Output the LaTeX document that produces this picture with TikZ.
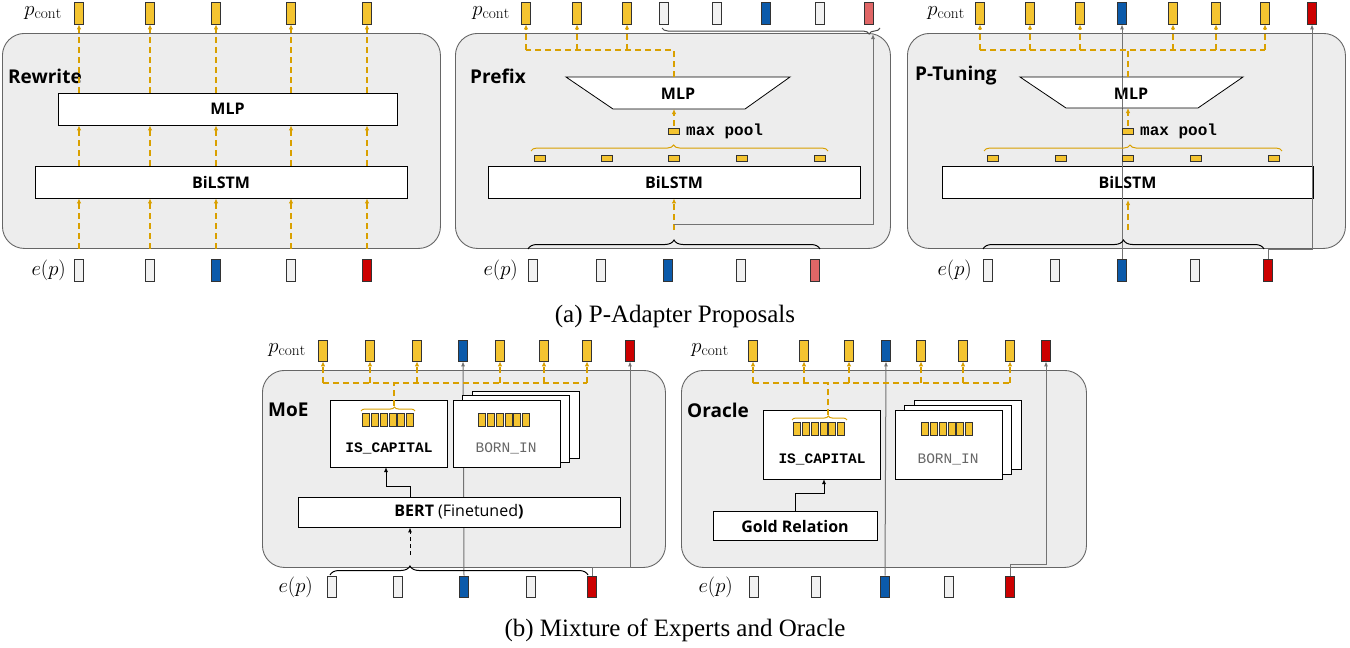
\documentclass[tikz,border=0pt]{standalone}
\usepackage{fontspec}
\newfontfamily\osans{Open Sans}
\newfontfamily\mymono{Liberation Mono}
\newfontfamily\myserif{Liberation Serif}
\usetikzlibrary{arrows.meta,decorations.pathreplacing}
\definecolor{G}{HTML}{F4C430}
\definecolor{GD}{HTML}{D9A000}
\definecolor{B}{HTML}{0B5AAA}
\definecolor{R}{HTML}{CC0000}
\definecolor{LR}{HTML}{E06666}
\definecolor{W}{HTML}{F2F2F2}
\tikzset{
 panel/.style={draw=black!60,fill=black!7,rounded corners=22,line width=0.9,anchor=north west,inner sep=0},
 tok/.style={draw=black!80,minimum width=9,minimum height=22,inner sep=0,line width=0.7},
 sm/.style={draw=black!80,fill=G,minimum width=11,minimum height=6,inner sep=0,line width=0.6},
 cell/.style={draw=black!80,fill=G,minimum width=7,minimum height=13,inner sep=0,line width=0.6},
 box/.style={draw=black,fill=white,line width=0.8,inner sep=0},
 lbl/.style={font=\osans\bfseries\fontsize{19}{19}\selectfont,anchor=west,inner sep=0},
 blbl/.style={font=\osans\bfseries\fontsize{16}{16}\selectfont},
 ttb/.style={font=\mymono\bfseries\fontsize{14.5}{14.5}\selectfont},
 ttg/.style={font=\mymono\fontsize{14.5}{14.5}\selectfont,text=black!60},
 gline/.style={color=GD,line width=1.3,dash pattern=on 6pt off 4pt},
 garr/.style={gline,-{Latex[length=5,width=4.5]}},
 grar/.style={draw=black!55,line width=1,-{Latex[length=5,width=4]}},
 blarr/.style={draw=black,line width=1,-{Latex[length=5,width=4]}},
 br/.style={decorate,decoration={brace,amplitude=#1},line width=1},
 mathl/.style={font=\fontsize{22}{22}\selectfont,anchor=east,inner sep=0},
 captxt/.style={font=\myserif\fontsize{25}{25}\selectfont},
}
\begin{document}
\begin{tikzpicture}[x=1pt,y=-1pt]
\useasboundingbox (0,0) rectangle (1350,648);
%================ Rewrite
\node[panel,minimum width=438,minimum height=215] (rw) at (2,33) {};
\node[lbl] (rwl) at (8,76) {Rewrite};
\node[box,minimum width=339,minimum height=32,blbl] (rwmlp) at (227.5,109) {MLP};
\node[box,minimum width=372,minimum height=32,blbl] (rwbil) at (221,182) {BiLSTM};
\node[mathl] (rwp) at (62,13) {$p_{\mathrm{cont}}$};
\node[mathl] (rwe) at (66,270) {$e(p)$};
\foreach \x/\c [count=\i] in {79/W,150/W,216/B,291/W,367/R}{
 \node[tok,fill=G] (rwt\i) at (\x,13) {};
 \node[tok,fill=\c] (rwb\i) at (\x,270) {};
 \draw[garr] ([yshift=10pt]rwb\i.north) -- (rwb\i |- rwbil.south);
 \draw[garr] (rwt\i |- rwbil.north) -- (rwt\i |- rwmlp.south);
 \draw[garr] (rwt\i |- rwmlp.north) -- (rwt\i.south);
}
%================ Prefix
\node[panel,minimum width=435,minimum height=215] (pf) at (455,33) {};
\node[lbl] (pfl) at (470,76) {Prefix};
\node[mathl] (pfp) at (510,13) {$p_{\mathrm{cont}}$};
\node[mathl] (pfe) at (518,270) {$e(p)$};
\foreach \x/\c [count=\i] in {526/G,577/G,627/G,664/W,717/W,766/B,820/W,869/LR}{
 \node[tok,fill=\c] (pft\i) at (\x,13) {};}
\foreach \x/\c [count=\i] in {533/W,601/W,668/B,741/W,815/LR}{
 \node[tok,fill=\c] (pfb\i) at (\x,270) {};}
\node[box,minimum width=372,minimum height=32,blbl] (pfbil) at (674,182) {BiLSTM};
\foreach \x [count=\i] in {540,607,674,742,820}{\node[sm] (pfs\i) at (\x,158) {};}
\draw[br=6,draw=GD,decoration={aspect=0.48}] (531,151) -- (828,151);
\node[sm] (pfmp) at (674,131) {};
\node[font=\mymono\bfseries\fontsize{16}{16}\selectfont,anchor=west,inner sep=0] (pfmpt) at (686,131) {max pool};
\draw[fill=white,line width=0.8] (566,77) -- (790,77) -- (745,109) -- (613,109) -- cycle;
\coordinate (pfmN) at (674,77); \coordinate (pfmS) at (674,109);
\node[blbl] (pfmlp) at (678,94) {MLP};
\draw[garr] (pfmp.north) ++(0,-2) -- (pfmS);
\draw[gline] (pfmN) -- (674,50) -- (526,50);
\foreach \i in {1,2,3}{\draw[garr] (pft\i |- 0,50) -- (pft\i.south);}
\draw[br=9] (528,249) -- (820,249);
\draw[garr] (674,230) -- (pfbil.south -| 674,0);
\draw[grar] (674,224) -| (873,34);
\draw[br=6,draw=black!70,decoration={mirror,aspect=0.95}] (662,28) -- (880,28);
%================ P-Tuning
\node[panel,minimum width=438,minimum height=215] (pt) at (907,33) {};
\node[mathl] (ptp) at (965,13) {$p_{\mathrm{cont}}$};
\node[mathl] (pte) at (972,270) {$e(p)$};
\foreach \x/\c [count=\i] in {980/G,1030/G,1080/G,1122/B,1173/G,1216/G,1265/G,1312/R}{
 \node[tok,fill=\c] (ptt\i) at (\x,13) {};}
\foreach \x/\c [count=\i] in {988/W,1055/W,1122/B,1195/W,1268/R}{
 \node[tok,fill=\c] (ptb\i) at (\x,270) {};}
\node[box,minimum width=371,minimum height=32,blbl] (ptbil) at (1127.5,182) {};
\draw[grar] (ptb3.north) -- (ptt4.south);
\node[blbl] (ptbilt) at (1127.5,182) {BiLSTM};
\foreach \x [count=\i] in {993,1061,1128,1196,1274}{\node[sm] (pts\i) at (\x,158) {};}
\draw[br=6,draw=GD,decoration={aspect=0.49}] (984,151) -- (1282,151);
\node[sm] (ptmp) at (1128,131) {};
\node[font=\mymono\bfseries\fontsize{16}{16}\selectfont,anchor=west,inner sep=0] (ptmpt) at (1140,131) {max pool};
\draw[fill=white,line width=0.8] (1020,77) -- (1243,77) -- (1198,108) -- (1066,108) -- cycle;
\coordinate (ptmN) at (1128,77); \coordinate (ptmS) at (1128,108);
\node[blbl] (ptmlp) at (1131,94) {MLP};
\draw[draw=black!55,line width=1] (1122,77) -- (1122,108);
\draw[garr] (ptmp.north) ++(0,-2) -- (ptmS);
\draw[gline] (ptmN) -- (1128,50);
\draw[gline] (980,50) -- (1265,50);
\foreach \i in {1,2,3,5,6,7}{\draw[garr] (ptt\i |- 0,50) -- (ptt\i.south);}
\draw[br=9] (983,249) -- (1264,249);
\draw[garr] (1128,230) -- (1128,200);
\draw[grar] (ptb5.north) -- ++(0,-9) -| (ptt8.south);
\node[lbl] (ptl) at (915,76) {P-Tuning};
\node[captxt] (capa) at (675,316) {(a) P-Adapter Proposals};
%================ MoE
\node[panel,minimum width=403,minimum height=197] (me) at (262,370) {};
\node[lbl] (mel) at (268,410) {MoE};
\node[mathl] (mep) at (306,350) {$p_{\mathrm{cont}}$};
\node[mathl] (mee) at (313,587) {$e(p)$};
\foreach \x/\c [count=\i] in {323/G,370/G,417/G,463/B,500/G,544/G,587/G,630/R}{
 \node[tok,fill=\c,minimum height=21] (met\i) at (\x,350.5) {};}
\foreach \x/\c [count=\i] in {332/W,398/W,464/B,531/W,592/R}{
 \node[tok,fill=\c,minimum height=21] (meb\i) at (\x,586.5) {};}
\draw[grar] (meb3.north) -- (met4.south);
\foreach \k in {2,1}{\draw[fill=white,line width=0.8] (453+9.5*\k,400-4.5*\k) rectangle ++(107,67);}
\node[box,minimum width=107,minimum height=67] (meborn) at (506.5,433.5) {};
\node[ttg] (mebornt) at (506,448) {BORN\_IN};
\node[box,minimum width=117,minimum height=67] (meis) at (388.5,433.5) {};
\node[ttb] (meist) at (389,448) {IS\_CAPITAL};
\foreach \k in {0,...,5}{\node[cell] (mec\k) at (366+\k*8.8,419.5) {};
 \node[cell] (med\k) at (482+\k*8.8,419.5) {};}
\draw[br=4,draw=GD,decoration={aspect=0.62}] (361,411) -- (415,411);
\draw[gline] (394,406) -- (394,383);
\draw[gline] (323,383) -- (587,383);
\foreach \i in {1,2,3,5,6,7}{\draw[garr] (met\i |- 0,383) -- (met\i.south);}
\node[box,minimum width=322,minimum height=30,font=\osans\fontsize{16}{16}\selectfont] (mebert) at (459,512) {\bfseries BERT \mdseries(Finetuned\bfseries)};
\draw[blarr] (410,497) -- (410,486) -| (386,467);
\draw[br=9,decoration={aspect=0.31}] (330,575) -- (588,575);
\draw[-{Latex[length=5,width=4]},line width=1,dash pattern=on 4pt off 3pt] (410,555) -- (mebert.south -| 410,0);
\draw[grar] (meb5.north) -- ++(0,-8) -| (met8.south);
%================ Oracle
\node[panel,minimum width=405,minimum height=197] (or) at (681,370) {};
\node[lbl] (orl) at (687,410) {Oracle};
\node[mathl] (orp) at (729,350) {$p_{\mathrm{cont}}$};
\node[mathl] (ore) at (733,587) {$e(p)$};
\foreach \x/\c [count=\i] in {753/G,804/G,849/G,886/B,921/G,963/G,1010/G,1046/R}{
 \node[tok,fill=\c,minimum height=21] (ort\i) at (\x,350.5) {};}
\foreach \x/\c [count=\i] in {754/W,816/W,885/B,949/W,1010/R}{
 \node[tok,fill=\c,minimum height=21] (orb\i) at (\x,586.5) {};}
\draw[grar] (orb3.north) -- (ort4.south);
\foreach \k in {2,1}{\draw[fill=white,line width=0.8] (895+9.5*\k,410-5*\k) rectangle ++(107,69);}
\node[box,minimum width=107,minimum height=69] (orborn) at (948.5,444.5) {};
\node[ttg] (orbornt) at (948,459) {BORN\_IN};
\node[box,minimum width=117,minimum height=69] (oris) at (821.5,444.5) {};
\node[ttb] (orist) at (822,459) {IS\_CAPITAL};
\foreach \k in {0,...,5}{\node[cell] (orc\k) at (797+\k*8.8,428.5) {};
 \node[cell] (ord\k) at (925+\k*8.8,428.5) {};}
\draw[br=4,draw=GD,decoration={aspect=0.66}] (792,420) -- (847,420);
\draw[gline] (828,415) -- (828,383);
\draw[gline] (753,383) -- (1010,383);
\foreach \i in {1,2,3,5,6,7}{\draw[garr] (ort\i |- 0,383) -- (ort\i.south);}
\node[box,minimum width=164,minimum height=29,blbl] (orgold) at (795,526) {Gold Relation};
\draw[blarr] (orgold.north) -- (795,493) -| (824,479);
\draw[grar] (orb5.north) -- ++(0,-11) -| (ort8.south);
\node[captxt] (capb) at (675,630) {(b) Mixture of Experts and Oracle};
\end{tikzpicture}
\end{document}
